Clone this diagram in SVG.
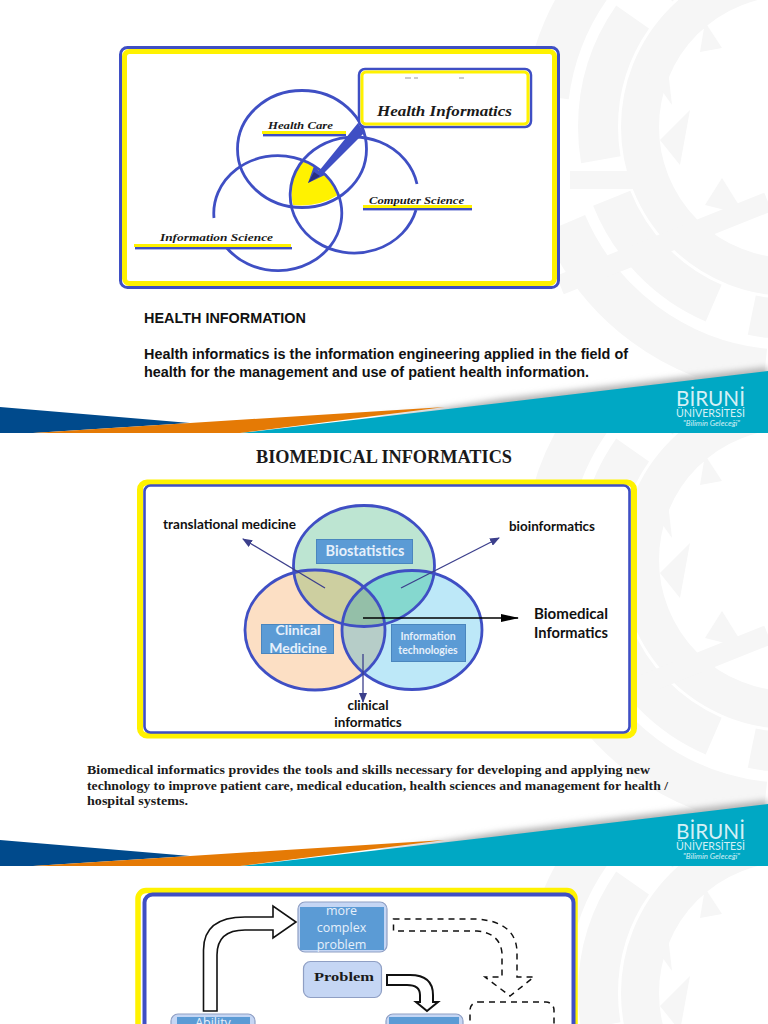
<svg xmlns="http://www.w3.org/2000/svg" width="768" height="1024" viewBox="0 0 768 1024">
<style>
.ring{fill:none;stroke:#3f4fc4;stroke-width:2.8}
.script{font-family:"Liberation Serif",serif;font-style:italic;font-weight:bold;fill:#1a1a1a}
.sans{font-family:"Liberation Sans",Arial,sans-serif;font-weight:bold;font-size:14px;fill:#111}
.serif{font-family:"Liberation Serif",serif;font-weight:bold;fill:#1a1a1a}
.lato{font-family:Lato,sans-serif;font-weight:700;fill:#111}
.wht{font-family:Lato,sans-serif;font-weight:700;fill:#e6f0fb;text-anchor:middle}
.mid{text-anchor:middle}
.wm{fill:none;stroke:#f6f6f6}
.box{fill:#5b9bd5;stroke:#4a86be;stroke-width:1}
.lbox{fill:#c5d6f4;stroke:#8f9fc4;stroke-width:1.2}
.logo{font-family:Lato,sans-serif;fill:#d5f0f6}
</style>
<defs>
<filter id="bl" x="-10%" y="-100%" width="120%" height="300%"><feGaussianBlur stdDeviation="3"/></filter>
<clipPath id="s1"><rect x="0" y="0" width="768" height="433"/></clipPath>
<clipPath id="s2"><rect x="0" y="433" width="768" height="433"/></clipPath>
<clipPath id="s3"><rect x="0" y="866" width="768" height="158"/></clipPath>
<clipPath id="cB"><ellipse cx="364" cy="566" rx="70.5" ry="60.5"/></clipPath>
<clipPath id="cC"><ellipse cx="315" cy="630" rx="70" ry="60"/></clipPath>
<marker id="mT" markerWidth="10" markerHeight="8" refX="9" refY="4" orient="auto" markerUnits="userSpaceOnUse"><path d="M0,0 L10,4 L0,8 Z" fill="#3c3f8c"/></marker>
<marker id="mK" markerWidth="18" markerHeight="8" refX="17" refY="4" orient="auto" markerUnits="userSpaceOnUse"><path d="M0,0 L18,4 L0,8 Z" fill="#000"/></marker>
<g id="watermark">
<circle class="wm" cx="790" cy="127" r="245" stroke-width="44" stroke-dasharray="260 130" stroke-dashoffset="-20"/>
<circle class="wm" cx="790" cy="127" r="192" stroke-width="40" stroke-dasharray="150 40"/>
<circle class="wm" cx="790" cy="127" r="150" stroke-width="38"/>
<path d="M668,70 L640,60 L672,105 Z M700,52 L705,22 L722,48 Z M660,140 L680,165 L690,110 Z M705,205 L722,178 L745,215 Z" fill="#f6f6f6"/>
<path d="M570,180 H640" class="wm" stroke-width="18"/>
<path d="M560,285 L768,202" class="wm" stroke-width="20"/>
</g>
<g id="band">
<path d="M380,418 L500,399 L768,367 V395 L380,433 Z" fill="#b4b4b4" filter="url(#bl)"/>
<path d="M0,407 L190,423 L33,433 H0 Z" fill="#004a8c"/>
<path d="M240,433 L500,403 L768,371 V433 Z" fill="#00a8c4"/>
<path d="M33,433 L190,423 L445,407 L240,433 Z" fill="#e57a05"/>
</g>
<g id="logo">
<text class="logo" x="676" y="406" font-size="21" textLength="69" lengthAdjust="spacingAndGlyphs">BİRUNİ</text>
<text class="logo" x="676" y="417" font-size="10.5" textLength="69" lengthAdjust="spacingAndGlyphs">ÜNİVERSİTESİ</text>
<text class="logo" x="683" y="426" font-size="7.5" font-style="italic" textLength="57" lengthAdjust="spacingAndGlyphs">"Bilimin Geleceği"</text>
</g>
</defs>

<rect width="768" height="1024" fill="#fff"/>
<g id="background">
<g clip-path="url(#s1)"><use href="#watermark"/><use href="#band"/><use href="#logo"/></g>
<g clip-path="url(#s2)"><use href="#watermark" y="433"/><use href="#band" y="433"/><use href="#logo" y="433"/></g>
<g clip-path="url(#s3)"><use href="#watermark" y="866"/></g>
</g>

<g id="slide1-frame">
<rect x="120.5" y="47.5" width="438" height="240" rx="7" fill="#fff" stroke="#3f4fc4" stroke-width="3"/>
<rect x="124.5" y="51.5" width="430" height="232" rx="5" fill="#fff" stroke="#fff200" stroke-width="5"/>
</g>
<g id="venn1">
<path d="M302,161 A64,57.5 0 0 1 338,195 A65,58.5 0 0 1 293,205 A64,58 0 0 1 302,161 Z" fill="#fff200"/>
<ellipse class="ring" cx="302" cy="149" rx="64.5" ry="58.5"/>
<path class="ring" d="M417,184 A64,58 0 1 0 416,210"/>
<path class="ring" d="M214,218 A64,57.5 0 1 1 226,247"/>
</g>
<g id="node-health-care">
<rect x="262" y="131" width="84" height="3" fill="#fff200"/><rect x="263" y="134" width="83" height="2.4" fill="#3f4fc4"/>
<text class="script" x="268" y="129" font-size="11" textLength="65" lengthAdjust="spacingAndGlyphs">Health Care</text>
</g>
<g id="node-computer-science">
<rect x="363" y="205" width="109" height="3" fill="#fff200"/><rect x="363" y="208" width="109" height="2.4" fill="#3f4fc4"/>
<text class="script" x="369" y="204" font-size="11" textLength="95" lengthAdjust="spacingAndGlyphs">Computer Science</text>
</g>
<g id="node-information-science">
<rect x="134" y="244" width="157" height="3" fill="#fff200"/><rect x="135" y="247" width="157" height="2.4" fill="#3f4fc4"/>
<text class="script" x="160" y="241" font-size="11" textLength="113" lengthAdjust="spacingAndGlyphs">Information Science</text>
</g>
<g id="node-health-informatics">
<rect x="359" y="69" width="172" height="58" rx="6" fill="#fff" stroke="#3f4fc4" stroke-width="2.5"/>
<rect x="362" y="72" width="166" height="52" rx="4" fill="#fff" stroke="#fff200" stroke-width="3"/>
<path d="M405,78 H411 M414,78 H418 M459,78 H464" stroke="#999" stroke-width="1.2"/>
<text class="script" x="377" y="116" font-size="14" textLength="135" lengthAdjust="spacingAndGlyphs">Health Informatics</text>
</g>
<g id="connectors1">
<path d="M358,123 L364,133 L323,174 L327,174 L308,183 L314,166 L319,171 Z" fill="#3f4fc4"/>
<path d="M308,183 L314,172 L320,176 Z" fill="#2a2f80"/>
</g>
<g id="slide1-text">
<text class="sans" x="144" y="323" textLength="162" lengthAdjust="spacingAndGlyphs">HEALTH INFORMATION</text>
<text class="sans" x="144" y="359" textLength="484" lengthAdjust="spacingAndGlyphs">Health informatics is the information engineering applied in the field of</text>
<text class="sans" x="144" y="377" textLength="445" lengthAdjust="spacingAndGlyphs">health for the management and use of patient health information.</text>
</g>

<text id="title2" class="serif" x="256" y="463" font-size="18" textLength="256" lengthAdjust="spacingAndGlyphs">BIOMEDICAL INFORMATICS</text>
<g id="slide2-frame">
<rect x="140" y="482.5" width="494" height="253" rx="7" fill="#fff" stroke="#fff200" stroke-width="6"/>
<rect x="144.5" y="485.5" width="485" height="247" rx="6" fill="#fff" stroke="#3f4fc4" stroke-width="2.6"/>
</g>
<g id="venn2">
<ellipse cx="364" cy="566" rx="70.5" ry="60.5" fill="#bde5d2"/>
<ellipse cx="315" cy="630" rx="70" ry="60" fill="#fcdfc4"/>
<ellipse cx="412" cy="630" rx="70" ry="59.5" fill="#bde8f8"/>
<g clip-path="url(#cB)"><ellipse cx="315" cy="630" rx="70" ry="60" fill="#cdcfa0"/><ellipse cx="412" cy="630" rx="70" ry="59.5" fill="#85d8cf"/></g>
<g clip-path="url(#cC)"><ellipse cx="412" cy="630" rx="70" ry="59.5" fill="#b6cdc8"/><g clip-path="url(#cB)"><ellipse cx="412" cy="630" rx="70" ry="59.5" fill="#94bfa8"/></g></g>
<ellipse class="ring" cx="364" cy="566" rx="70.5" ry="60.5"/>
<ellipse class="ring" cx="315" cy="630" rx="70" ry="60"/>
<ellipse class="ring" cx="412" cy="630" rx="70" ry="59.5"/>
</g>
<g id="node-biostatistics"><rect class="box" x="316.5" y="539.5" width="96" height="24"/><text class="wht" x="365" y="556" font-size="14.5">Biostatistics</text></g>
<g id="node-clinical-medicine"><rect class="box" x="261.5" y="624.5" width="72" height="29"/><text class="wht" x="298" y="635" font-size="14">Clinical</text><text class="wht" x="298" y="653" font-size="14">Medicine</text></g>
<g id="node-information-technologies"><rect class="box" x="391.5" y="624.5" width="74" height="37"/><text class="wht" x="428" y="639.5" font-size="10.5">Information</text><text class="wht" x="428" y="653.5" font-size="10.5">technologies</text></g>
<g id="connectors2" fill="none">
<path d="M325,588 L243,539" stroke="#3c3f8c" stroke-width="1.3" marker-end="url(#mT)"/>
<path d="M401,588 L499,538" stroke="#3c3f8c" stroke-width="1.3" marker-end="url(#mT)"/>
<path d="M363,654 L363,702" stroke="#3c3f8c" stroke-width="1.3" marker-end="url(#mT)"/>
<path d="M363,618 L518,618" stroke="#000" stroke-width="1.6" marker-end="url(#mK)"/>
</g>
<g id="slide2-labels">
<text class="lato" x="163" y="529" font-size="13.5" textLength="133" lengthAdjust="spacingAndGlyphs">translational medicine</text>
<text class="lato" x="509" y="531" font-size="13.5" textLength="86" lengthAdjust="spacingAndGlyphs">bioinformatics</text>
<text class="lato" x="534" y="619" font-size="15" textLength="74" lengthAdjust="spacingAndGlyphs">Biomedical</text>
<text class="lato" x="534" y="638" font-size="15" textLength="74" lengthAdjust="spacingAndGlyphs">Informatics</text>
<text class="lato mid" x="368" y="710" font-size="13.5">clinical</text>
<text class="lato mid" x="368" y="727" font-size="13.5">informatics</text>
</g>
<g id="slide2-text" class="serif" font-size="13">
<text x="87" y="774" textLength="563" lengthAdjust="spacingAndGlyphs">Biomedical informatics provides the tools and skills necessary for developing and applying new</text>
<text x="87" y="790" textLength="581" lengthAdjust="spacingAndGlyphs">technology to improve patient care, medical education, health sciences and management for health /</text>
<text x="87" y="805" textLength="101" lengthAdjust="spacingAndGlyphs">hospital systems.</text>
</g>

<g id="slide3-frame">
<rect x="138" y="890.5" width="437" height="160" rx="8" fill="#fff" stroke="#fff200" stroke-width="5.5"/>
<rect x="144.5" y="894.5" width="429" height="160" rx="8" fill="#fff" stroke="#3f4fc4" stroke-width="4"/>
</g>
<g id="connectors3" fill="#fff" stroke="#111">
<path d="M203.5,1011 V950 Q203.5,917 245,917 H273 V906 L296,922 L273,938 V930 H245 Q217,930 217,955 V1011 Z" stroke-width="1.6"/>
<path d="M387,975 H410 Q433,975 433,995 V1002 H438 L427,1011 L416,1002 H420 V995 Q420,985 407,985 H387 Z" stroke-width="2"/>
<path d="M393.5,919 H477 Q517,922 517,953 V977 H534 L510,996 L485,977 H502 V953 Q500,933 477,931 H393.5 Z" fill="none" stroke-width="1.5" stroke-dasharray="6 5"/>
</g>
<g id="node-more-complex">
<rect class="lbox" x="298" y="902" width="89" height="50" rx="7"/>
<rect x="300" y="907" width="84" height="43" fill="#5b9bd5"/>
<g font-family="'Open Sans',sans-serif" font-size="12.5" fill="#e6f0fb" text-anchor="middle"><text x="341.5" y="915">more</text><text x="341.5" y="932">complex</text><text x="341.5" y="949">problem</text></g>
</g>
<g id="node-problem"><rect class="lbox" x="303.5" y="961.5" width="78" height="36" rx="7"/><text class="serif" x="314" y="981" font-size="13" textLength="60" lengthAdjust="spacingAndGlyphs">Problem</text></g>
<g id="node-ability"><rect class="lbox" x="171" y="1014" width="84" height="30" rx="7"/><rect x="177" y="1017" width="73" height="25" fill="#5b9bd5"/><text x="213" y="1027" font-family="'Open Sans',sans-serif" font-size="12.5" fill="#e6f0fb" text-anchor="middle">Ability</text></g>
<g id="node-lower-right"><rect class="lbox" x="386" y="1014" width="77" height="30" rx="7"/><rect x="389" y="1017" width="70" height="25" fill="#5b9bd5"/></g>
<g id="node-dashed"><rect x="470" y="1002" width="84" height="50" rx="8" fill="none" stroke="#111" stroke-width="1.5" stroke-dasharray="6 5"/></g>
</svg>
